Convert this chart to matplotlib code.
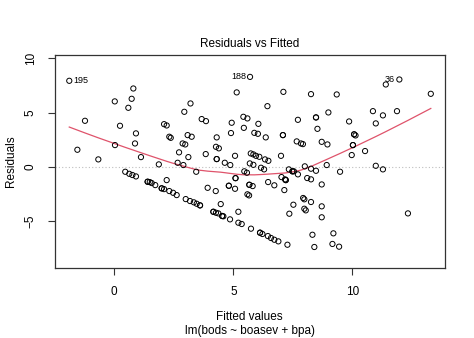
import numpy as np
import matplotlib
matplotlib.use("Agg")
import matplotlib.pyplot as plt

plt.rcParams['font.family'] = ['Liberation Sans', 'DejaVu Sans']

# fitted values and residuals of lm(bods ~ boasev + bpa)
fitted = np.array([
    -1.89, 0.80, 0.73, 0.02, 0.59, -1.23, 0.24, 0.91, 0.03, 0.87,
    -1.55, -0.67, 1.12, 2.94, 3.20, 2.09, 2.20, 2.31, 2.37, 3.08,
    3.25, 2.87, 2.98, 2.72, 3.11, 2.66, 2.90, 1.87, 3.44,
    0.46, 0.63, 0.76, 0.91, 1.40, 1.49, 1.57, 1.72, 2.20,
    1.99, 2.09, 2.31, 2.47, 2.62, 3.00, 3.18, 3.34, 3.46, 3.60,
    3.92, 4.26, 4.47, 4.16, 4.27, 4.37, 4.53, 4.58, 4.86, 5.21,
    5.21, 5.35, 5.74, 6.12, 6.22, 6.45, 6.58, 6.72, 6.89, 7.27,
    8.32, 8.40, 9.20, 9.16, 9.44, 12.33,
    4.30, 4.64, 4.87, 5.07, 3.84, 4.27, 4.39, 5.09, 4.81, 5.07,
    5.46, 5.57, 5.67, 5.81, 5.59, 5.66, 6.46, 6.72, 7.02, 7.17,
    7.20, 7.14, 7.33, 7.48, 7.54, 7.71, 7.52, 7.35, 7.93, 7.98,
    7.98, 8.04, 8.26, 8.10, 8.26, 8.00, 8.26, 8.47, 5.69, 5.84,
    6.16, 6.29, 5.73, 5.84, 5.95, 6.09, 6.33, 6.47, 7.00, 7.66,
    7.84, 7.92, 8.71, 8.95, 8.92, 9.48, 8.71, 8.71, 8.71, 10.02,
    9.97, 10.53, 10.98, 11.28,
    5.70, 5.14, 7.10, 8.26, 9.34, 13.29, 11.40, 11.97, 6.43, 3.67,
    3.85, 4.93, 5.42, 5.59, 6.05, 5.44, 4.90, 5.88, 6.03, 6.36,
    7.08, 7.71, 8.47, 8.53, 4.30, 8.99, 9.86, 10.07, 10.13, 10.86,
    11.28, 10.98, 11.87,
    # repeated observations (overplotted circles)
    1.40, 1.99, 3.60, 4.16, 4.53, 5.09, 4.30, 4.81, 6.12, 5.67,
    7.20, 7.48, 7.08, 8.47, 10.07, 10.02,
])
resid = np.array([
    7.93, 7.22, 6.27, 6.03, 5.44, 4.24, 3.78, 3.08, 2.00, 2.15,
    1.57, 0.68, 0.89, 5.07, 5.84, 3.93, 3.81, 2.77, 2.67, 2.92,
    2.77, 2.15, 2.06, 1.33, 0.89, 0.37, 0.16, 0.22, -0.46,
    -0.46, -0.65, -0.76, -0.89, -1.38, -1.41, -1.50, -1.69, -1.23,
    -1.99, -2.06, -2.24, -2.40, -2.61, -2.98, -3.16, -3.28, -3.41, -3.56,
    -1.94, -2.24, -3.44, -4.15, -4.24, -4.30, -4.54, -4.57, -4.85, -5.16,
    -4.15, -5.28, -5.71, -6.08, -6.20, -6.39, -6.57, -6.73, -6.88, -7.19,
    -6.27, -7.40, -6.14, -7.12, -7.37, -4.30,
    0.71, 0.37, 0.16, 1.01, 1.17, 1.84, 1.70, -1.05, -1.75, -2.03,
    -0.42, -0.55, -1.66, -1.78, -2.54, -2.64, -1.41, -1.71, -0.95, -1.16,
    -1.23, -2.15, -0.24, -0.42, -0.42, -0.70, -3.50, -4.33, -2.88, -3.00,
    -3.87, -4.02, -3.25, -1.04, -1.16, 0.04, -0.18, -0.37, 0.31, 0.18,
    -0.09, -0.24, 1.23, 1.14, 1.01, 0.92, 0.68, 0.55, 1.01, 2.34,
    2.15, 2.09, 2.30, 2.06, 0.16, -0.46, -1.63, -3.65, -4.66, 2.00,
    1.08, 1.45, 0.09, -0.24,
    8.29, 6.86, 6.91, 6.70, 6.67, 6.73, 7.59, 8.05, 5.59, 4.40,
    4.21, 4.06, 4.61, 4.46, 3.96, 3.59, 3.11, 3.13, 3.04, 2.71,
    2.92, 4.33, 4.55, 3.50, 2.71, 5.01, 4.18, 2.99, 2.89, 5.13,
    4.74, 4.00, 5.13,
    -1.38, -1.99, -3.56, -4.15, -4.54, -1.05, 0.71, -1.75, -6.08, -1.66,
    -1.23, -0.42, 2.92, 4.55, 2.99, 2.00,
])

# observations flagged with their row names
id_labels = ["195", "188", "36"]
id_fitted = [-1.89, 5.70, 11.97]
id_resid = [7.93, 8.29, 8.05]


def lowess(x, y, f=2/3, iters=3):
    order = np.argsort(x)
    x = x[order]
    y = y[order]
    n = len(x)
    r = int(round(f * n))
    h = np.array([np.sort(np.abs(x - x[i]))[r - 1] for i in range(n)])
    # w[i, j]: tricube weight of point j in the fit at x[i]
    w = np.clip(np.abs((x[:, None] - x[None, :]) / h[:, None]), 0.0, 1.0)
    w = (1 - w ** 3) ** 3
    yest = np.zeros(n)
    delta = np.ones(n)
    for _ in range(iters + 1):
        for i in range(n):
            wt = delta * w[i, :]
            b = np.array([np.sum(wt * y), np.sum(wt * y * x)])
            A = np.array([[np.sum(wt), np.sum(wt * x)],
                          [np.sum(wt * x), np.sum(wt * x * x)]])
            beta = np.linalg.solve(A, b)
            yest[i] = beta[0] + beta[1] * x[i]
        res = y - yest
        s = np.median(np.abs(res))
        delta = np.clip(res / (6.0 * s), -1, 1)
        delta = (1 - delta ** 2) ** 2
    return x, yest


fig = plt.figure(figsize=(4.74, 3.38), dpi=100)
ax = fig.add_axes([0.116, 0.207, 0.823, 0.630])

ax.axhline(0, color="#bebebe", linestyle=(0, (1, 2)), linewidth=0.8, zorder=1)
ax.scatter(fitted, resid, s=14, facecolors="none", edgecolors="black",
           linewidths=0.7, zorder=3)

sx, sy = lowess(fitted, resid)
ax.plot(sx, sy, color="#DF536B", linewidth=0.9, zorder=2)

for lab, xv, yv in zip(id_labels, id_fitted, id_resid):
    if xv > np.mean([min(id_fitted), max(id_fitted)]):
        ax.annotate(lab, (xv, yv), xytext=(-3, 0), textcoords="offset points",
                    ha="right", va="center", fontsize=6.5)
    else:
        ax.annotate(lab, (xv, yv), xytext=(3, 0), textcoords="offset points",
                    ha="left", va="center", fontsize=6.5)

ax.set_xlim(-2.49, 13.89)
ax.set_ylim(-9.34, 10.30)
ax.set_xticks([0, 5, 10])
ax.set_yticks([-5, 0, 5, 10])
ax.tick_params(direction="out", length=5, width=0.8, labelsize=8.5,
               color="#333333", pad=8)
for lbl in ax.get_yticklabels():
    lbl.set_rotation(90)
    lbl.set_va("center")
for sp in ax.spines.values():
    sp.set_color("#333333")
    sp.set_linewidth(0.9)

ax.set_title("Residuals vs Fitted", fontsize=8.5, pad=6)
ax.set_ylabel("Residuals", fontsize=8.5, labelpad=6)

# x label and model call under the axis
fig.text(0.527, 1 - 317 / 338, "Fitted values", ha="center", va="center",
         fontsize=8.5)
fig.text(0.527, 1 - 331 / 338, "lm(bods ~ boasev + bpa)", ha="center",
         va="center", fontsize=8.5)

fig.savefig("out.png", dpi=100)
